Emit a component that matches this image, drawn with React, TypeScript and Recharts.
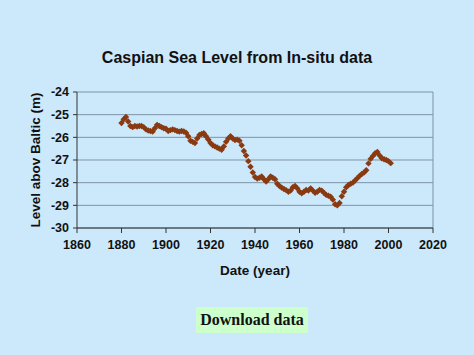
import React from 'react';
import { ScatterChart, Scatter, XAxis, YAxis, CartesianGrid, ReferenceLine } from 'recharts';

const years = [
  1880, 1881, 1882, 1883, 1884, 1885, 1886, 1887, 1888, 1889,
  1890, 1891, 1892, 1893, 1894, 1895, 1896, 1897, 1898, 1899,
  1900, 1901, 1902, 1903, 1904, 1905, 1906, 1907, 1908, 1909,
  1910, 1911, 1912, 1913, 1914, 1915, 1916, 1917, 1918, 1919,
  1920, 1921, 1922, 1923, 1924, 1925, 1926, 1927, 1928, 1929,
  1930, 1931, 1932, 1933, 1934, 1935, 1936, 1937, 1938, 1939,
  1940, 1941, 1942, 1943, 1944, 1945, 1946, 1947, 1948, 1949,
  1950, 1951, 1952, 1953, 1954, 1955, 1956, 1957, 1958, 1959,
  1960, 1961, 1962, 1963, 1964, 1965, 1966, 1967, 1968, 1969,
  1970, 1971, 1972, 1973, 1974, 1975, 1976, 1977, 1978, 1979,
  1980, 1981, 1982, 1983, 1984, 1985, 1986, 1987, 1988, 1989,
  1990, 1991, 1992, 1993, 1994, 1995, 1996, 1997, 1998, 1999,
  2000, 2001,
];

const levels = [
  -25.37, -25.2, -25.1, -25.3, -25.5, -25.55, -25.5, -25.52, -25.5, -25.5,
  -25.55, -25.65, -25.7, -25.72, -25.75, -25.6, -25.45, -25.5, -25.55, -25.6,
  -25.62, -25.72, -25.68, -25.65, -25.68, -25.72, -25.75, -25.72, -25.74, -25.8,
  -25.95, -26.15, -26.2, -26.25, -26.05, -25.9, -25.85, -25.82, -25.95, -26.1,
  -26.25, -26.35, -26.4, -26.45, -26.5, -26.55, -26.4, -26.2, -26.05, -25.95,
  -26.05, -26.12, -26.1, -26.15, -26.35, -26.6, -26.8, -27.05, -27.3, -27.55,
  -27.75, -27.82, -27.78, -27.73, -27.85, -27.95, -27.85, -27.73, -27.78, -27.85,
  -28.05, -28.15, -28.22, -28.28, -28.33, -28.4, -28.35, -28.2, -28.15, -28.25,
  -28.4, -28.47, -28.4, -28.32, -28.35, -28.25, -28.35, -28.45, -28.4, -28.32,
  -28.35, -28.45, -28.54, -28.58, -28.62, -28.75, -28.95, -29.0, -28.9, -28.6,
  -28.4, -28.2, -28.1, -28.05, -28.0, -27.9, -27.8, -27.7, -27.62, -27.55,
  -27.45, -27.15, -26.95, -26.82, -26.7, -26.65, -26.8, -26.92, -26.97, -27.0,
  -27.05, -27.14,
];

const xTicks = [1860, 1880, 1900, 1920, 1940, 1960, 1980, 2000, 2020];
const yTicks = [-30, -29, -28, -27, -26, -25, -24];

const data = years.map((y, i) => ({ year: y, level: levels[i] }));

const font = '"Liberation Sans", Arial, sans-serif';
const bg = '#cce8fb';

const Diamond = (props: any) => {
  const { cx, cy } = props;
  if (cx == null || cy == null) return null;
  const r = 3.2;
  return (
    <polygon
      points={`${cx},${cy - r} ${cx + r},${cy} ${cx},${cy + r} ${cx - r},${cy}`}
      fill="#8a3a10"
    />
  );
};

export default function App() {
  return (
    <div style={{ position: 'absolute', left: 0, top: 0, width: 474, height: 355, background: bg, fontFamily: font }}>
      <div style={{ position: 'absolute', left: 0, width: 474, top: 49, textAlign: 'center', fontSize: 16, fontWeight: 'bold', color: '#111' }}>
        Caspian Sea Level from In-situ data
      </div>
      <div
        style={{
          position: 'absolute', left: 35, top: 160, width: 200, marginLeft: -100, textAlign: 'center',
          transform: 'translateY(-50%) rotate(-90deg)', fontSize: 13.5, fontWeight: 'bold', color: '#111',
        }}
      >
        Level abov Baltic (m)
      </div>
      <div style={{ position: 'absolute', left: 0, width: 510, top: 263, textAlign: 'center', fontSize: 13.5, fontWeight: 'bold', color: '#111' }}>
        Date (year)
      </div>
      <div
        style={{
          position: 'absolute', left: 196, top: 307, width: 112, height: 26, background: '#ccffcc',
          fontFamily: '"Liberation Serif", "Times New Roman", serif', fontWeight: 'bold', fontSize: 16,
          lineHeight: '26px', textAlign: 'center', color: '#111',
        }}
      >
        Download data
      </div>
      <div style={{ position: 'absolute', left: 0, top: 0 }}>
        <ScatterChart width={474} height={355} margin={{ top: 92, right: 41, bottom: 97, left: 37 }}>
          <CartesianGrid horizontal vertical={false} stroke="#7f93a6" strokeWidth={1} />
          <XAxis
            type="number"
            dataKey="year"
            domain={[1860, 2020]}
            ticks={xTicks}
            interval={0}
            tickLine={{ stroke: '#333' }}
            axisLine={{ stroke: '#333' }}
            tickSize={5}
            tickMargin={7}
            tick={{ fill: '#111', fontSize: 12.5, fontWeight: 'bold', fontFamily: font }}
            height={30}
          />
          <YAxis
            type="number"
            dataKey="level"
            domain={[-30, -24]}
            ticks={yTicks}
            interval={0}
            tickLine={{ stroke: '#333' }}
            axisLine={{ stroke: '#333' }}
            tickSize={4}
            tickMargin={4}
            tick={{ fill: '#111', fontSize: 12.5, fontWeight: 'bold', fontFamily: font }}
            width={40}
          />
          <ReferenceLine x={2020} stroke="#7f93a6" />
          <Scatter data={data} shape={<Diamond />} isAnimationActive={false} />
        </ScatterChart>
      </div>
    </div>
  );
}
